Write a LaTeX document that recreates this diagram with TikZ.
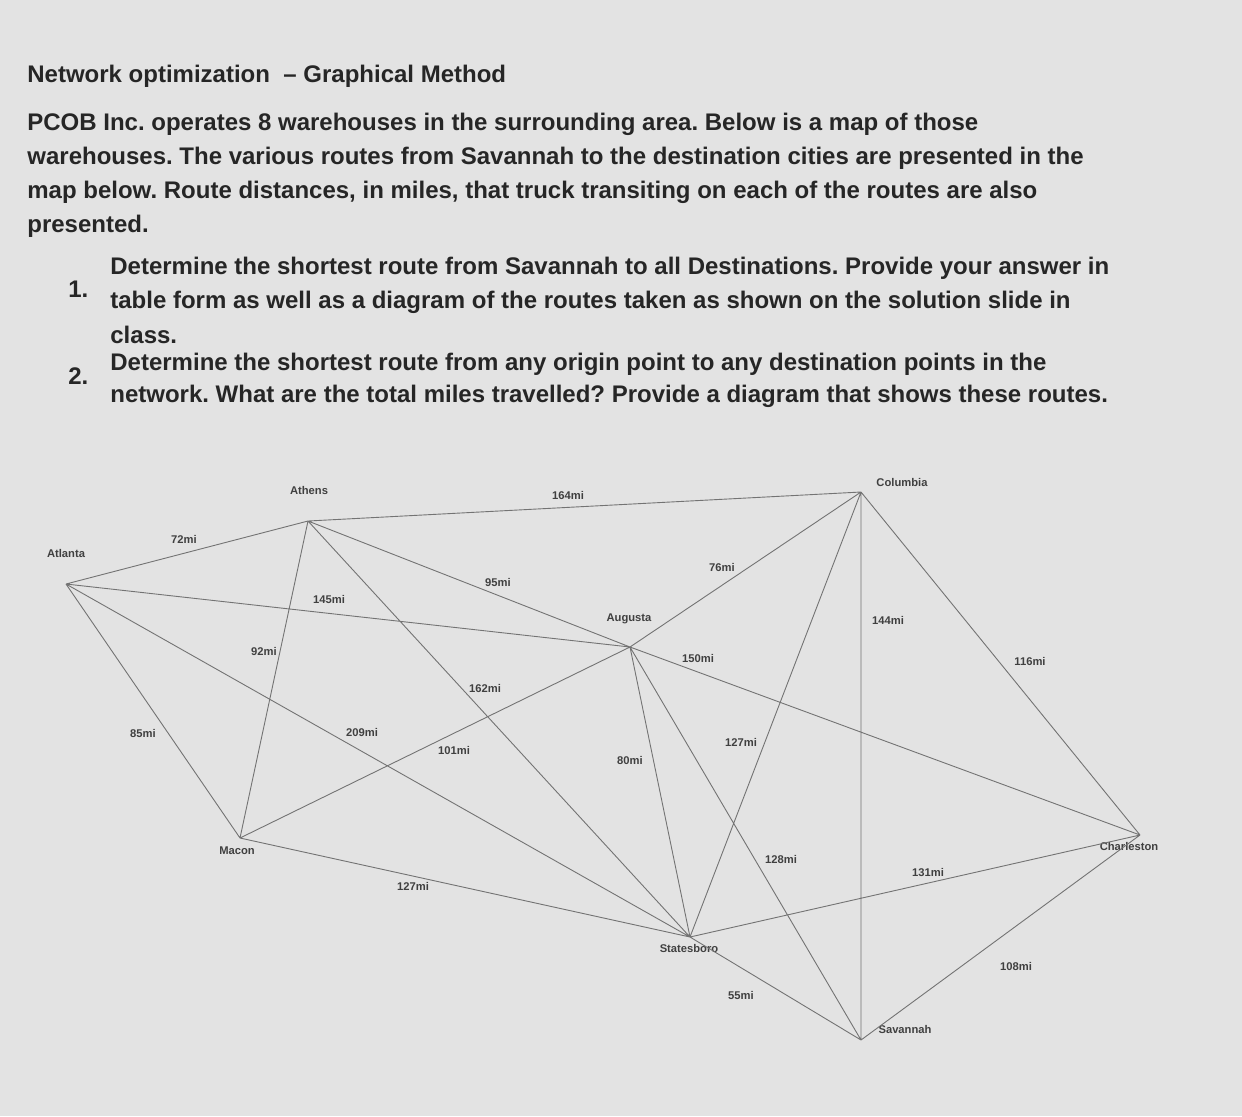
\documentclass[tikz,border=0pt]{standalone}
\usepackage{fontspec}
\setmainfont{Liberation Sans}
\frenchspacing
\begin{document}
\begin{tikzpicture}[x=0.5pt,y=-0.5pt,
  txt/.style={anchor=west,inner sep=0pt,font=\fontsize{12}{14}\selectfont\bfseries,text=black!85},
  city/.style={inner sep=0pt,font=\fontsize{5.6}{7}\selectfont\bfseries,text=black!75},
  lab/.style={inner sep=0pt,font=\fontsize{5.6}{7}\selectfont\bfseries,text=black!75},
  road/.style={draw=black!55,line width=0.45pt}]
\fill[black!11] (0,0) rectangle (1242,1116);
\useasboundingbox (0,0) rectangle (1242,1116);
\node[txt] (t0) at (27,76) {Network optimization \ -- Graphical Method};
\node[txt] (p1) at (27,124) {PCOB Inc. operates 8 warehouses in the surrounding area. Below is a map of those};
\node[txt] (p2) at (27,158) {warehouses. The various routes from Savannah to the destination cities are presented in the};
\node[txt] (p3) at (27,192) {map below. Route distances, in miles, that truck transiting on each of the routes are also};
\node[txt] (p4) at (27,226) {presented.};
\node[txt] (n1) at (68,289) {1.};
\node[txt] (q1a) at (110,268) {Determine the shortest route from Savannah to all Destinations. Provide your answer in};
\node[txt] (q1b) at (110,302) {table form as well as a diagram of the routes taken as shown on the solution slide in};
\node[txt] (q1c) at (110,335) {class.};
\node[txt] (n2) at (68,376) {2.};
\node[txt] (q2a) at (110,364) {Determine the shortest route from any origin point to any destination points in the};
\node[txt] (q2b) at (110,396) {network. What are the total miles travelled? Provide a diagram that shows these routes.};
% cities
\coordinate (At) at (66,584);
\coordinate (Ath) at (308,521);
\coordinate (Co) at (861,492);
\coordinate (Au) at (630,647);
\coordinate (Ma) at (240,838);
\coordinate (St) at (690,937);
\coordinate (Ch) at (1140,835);
\coordinate (Sa) at (861,1040);
\node[city] (lAt) at (66,553) {Atlanta};
\node[city] (lAth) at (309,490) {Athens};
\node[city] (lCo) at (902,482) {Columbia};
\node[city] (lAu) at (629,619) {Augusta};
\node[city] (lMa) at (237,851) {Macon};
\node[city] (lSt) at (689,948) {Statesboro};
\node[city] (lCh) at (1129,846) {Charleston};
\node[city] (lSa) at (905,1029) {Savannah};
% roads
\draw[road] (At)--(Ath) (Ath)--(Co) (Ath)--(Au) (Ath)--(Ma) (Ath)--(St)
  (At)--(Au) (At)--(Ma) (At)--(St) (Ma)--(Au) (Ma)--(St)
  (Au)--(Co) (Au)--(St) (Au)--(Ch) (Au)--(Sa)
  (Co)--(St) (Co)--(Sa) (Co)--(Ch) (St)--(Ch) (St)--(Sa) (Sa)--(Ch);
% labels
\node[lab] (d1) at (184,539) {72mi};
\node[lab] (d2) at (568,495) {164mi};
\node[lab] (d3) at (498,582) {95mi};
\node[lab] (d4) at (329,599) {145mi};
\node[lab] (d5) at (264,651) {92mi};
\node[lab] (d6) at (485,688) {162mi};
\node[lab] (d7) at (143,733) {85mi};
\node[lab] (d8) at (362,732) {209mi};
\node[lab] (d9) at (454,750) {101mi};
\node[lab] (d10) at (413,886) {127mi};
\node[lab] (d11) at (722,567) {76mi};
\node[lab] (d12) at (698,658) {150mi};
\node[lab] (d13) at (630,760) {80mi};
\node[lab] (d14) at (741,742) {127mi};
\node[lab] (d15) at (781,859) {128mi};
\node[lab] (d16) at (888,620) {144mi};
\node[lab] (d17) at (1030,661) {116mi};
\node[lab] (d18) at (928,872) {131mi};
\node[lab] (d19) at (1016,966) {108mi};
\node[lab] (d20) at (741,995) {55mi};
\end{tikzpicture}
\end{document}
